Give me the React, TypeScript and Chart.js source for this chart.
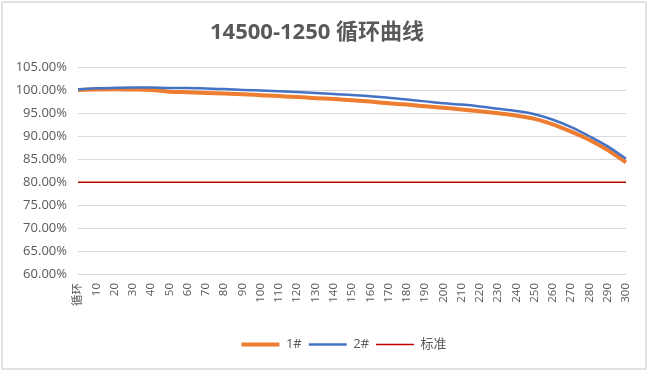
import React, { useEffect, useRef } from "react";
import { Chart, registerables } from "chart.js";

Chart.register(...registerables);

const categories: string[] = [
  "循环", "10", "20", "30", "40", "50", "60", "70", "80", "90", "100",
  "110", "120", "130", "140", "150", "160", "170", "180", "190", "200",
  "210", "220", "230", "240", "250", "260", "270", "280", "290", "300",
];

const series1: number[] = [
  100.1, 100.2, 100.25, 100.2, 100.1, 99.7, 99.6, 99.45, 99.3, 99.15, 98.95,
  98.75, 98.55, 98.3, 98.1, 97.85, 97.55, 97.2, 96.9, 96.55, 96.2,
  95.85, 95.45, 95.0, 94.5, 93.8, 92.6, 91.0, 89.2, 87.0, 84.3,
];

const series2: number[] = [
  100.2, 100.45, 100.55, 100.6, 100.6, 100.5, 100.5, 100.4, 100.3, 100.1, 99.95,
  99.8, 99.65, 99.45, 99.2, 99.0, 98.7, 98.4, 98.0, 97.6, 97.2,
  96.9, 96.5, 96.0, 95.5, 94.8, 93.6, 92.0, 90.0, 87.8, 85.1,
];

const standardValue = 80;
const standard: number[] = categories.map(() => standardValue);

const yTicks: number[] = [60, 65, 70, 75, 80, 85, 90, 95, 100, 105];

const seriesNames: string[] = ["1#", "2#", "标准"];
const titleText = "14500-1250 循环曲线";

const FONT = "'Open Sans', 'Noto Sans CJK SC', sans-serif";
const TXT = "#595959";

const legendShift = {
  id: "legendShift",
  afterLayout(chart: any) {
    const lg = chart.legend;
    if (lg) {
      lg.left += 27;
      lg.right += 27;
    }
  },
};

export default function App() {
  const ref = useRef<HTMLCanvasElement | null>(null);

  useEffect(() => {
    document.body.style.margin = "0";
    const canvas = ref.current;
    if (!canvas) return;
    const chart = new Chart(canvas, {
      type: "line",
      plugins: [legendShift],
      data: {
        labels: categories,
        datasets: [
          {
            label: seriesNames[0],
            data: series1,
            borderColor: "#ED7D31",
            backgroundColor: "#ED7D31",
            borderWidth: 4,
            pointRadius: 0,
            cubicInterpolationMode: "monotone",
            order: 2,
          },
          {
            label: seriesNames[1],
            data: series2,
            borderColor: "#4472C4",
            backgroundColor: "#4472C4",
            borderWidth: 2.5,
            pointRadius: 0,
            cubicInterpolationMode: "monotone",
            order: 1,
          },
          {
            label: seriesNames[2],
            data: standard,
            borderColor: "#C00000",
            backgroundColor: "#C00000",
            borderWidth: 1.5,
            pointRadius: 0,
            tension: 0,
            order: 3,
          },
        ],
      },
      options: {
        responsive: false,
        animation: false,
        layout: { padding: { left: 8, right: 24, top: 0, bottom: 10 } },
        plugins: {
          title: {
            display: true,
            text: titleText,
            color: TXT,
            font: { family: FONT, size: 22, weight: "bold" },
            padding: { top: 20, bottom: 21 },
          },
          legend: {
            position: "bottom",
            labels: {
              color: TXT,
              font: { family: FONT, size: 13 },
              usePointStyle: true,
              pointStyle: "line",
              pointStyleWidth: 38,
              padding: 7,
              sort: (a: any, b: any) => a.datasetIndex - b.datasetIndex,
            },
          },
          tooltip: { enabled: false },
        },
        scales: {
          x: {
            grid: { display: false, drawTicks: false },
            border: { display: false },
            ticks: {
              color: TXT,
              font: { family: FONT, size: 11.5 },
              minRotation: 90,
              maxRotation: 90,
              autoSkip: false,
              padding: 9,
            },
            afterFit: (axis: any) => {
              axis.height = 57;
            },
          },
          y: {
            min: 60,
            max: 105,
            afterBuildTicks: (axis: any) => {
              axis.ticks = yTicks.map((v) => ({ value: v }));
            },
            afterFit: (axis: any) => {
              axis.width = 70;
            },
            grid: { color: "#d9d9d9", drawTicks: false, lineWidth: 1 },
            border: { display: false },
            ticks: {
              color: TXT,
              font: { family: FONT, size: 13 },
              padding: 11,
              callback: (v: any) => Number(v).toFixed(2) + "%",
            },
          },
        },
      },
    });
    return () => chart.destroy();
  }, []);

  return (
    <div style={{ position: "relative", width: 650, height: 371, background: "#fff" }}>
      <canvas ref={ref} width={650} height={371} style={{ display: "block" }} />
      <div
        style={{
          position: "absolute",
          left: 1,
          top: 1,
          width: 642,
          height: 365,
          border: "2px solid #e2e2e2",
          pointerEvents: "none",
        }}
      />
    </div>
  );
}
